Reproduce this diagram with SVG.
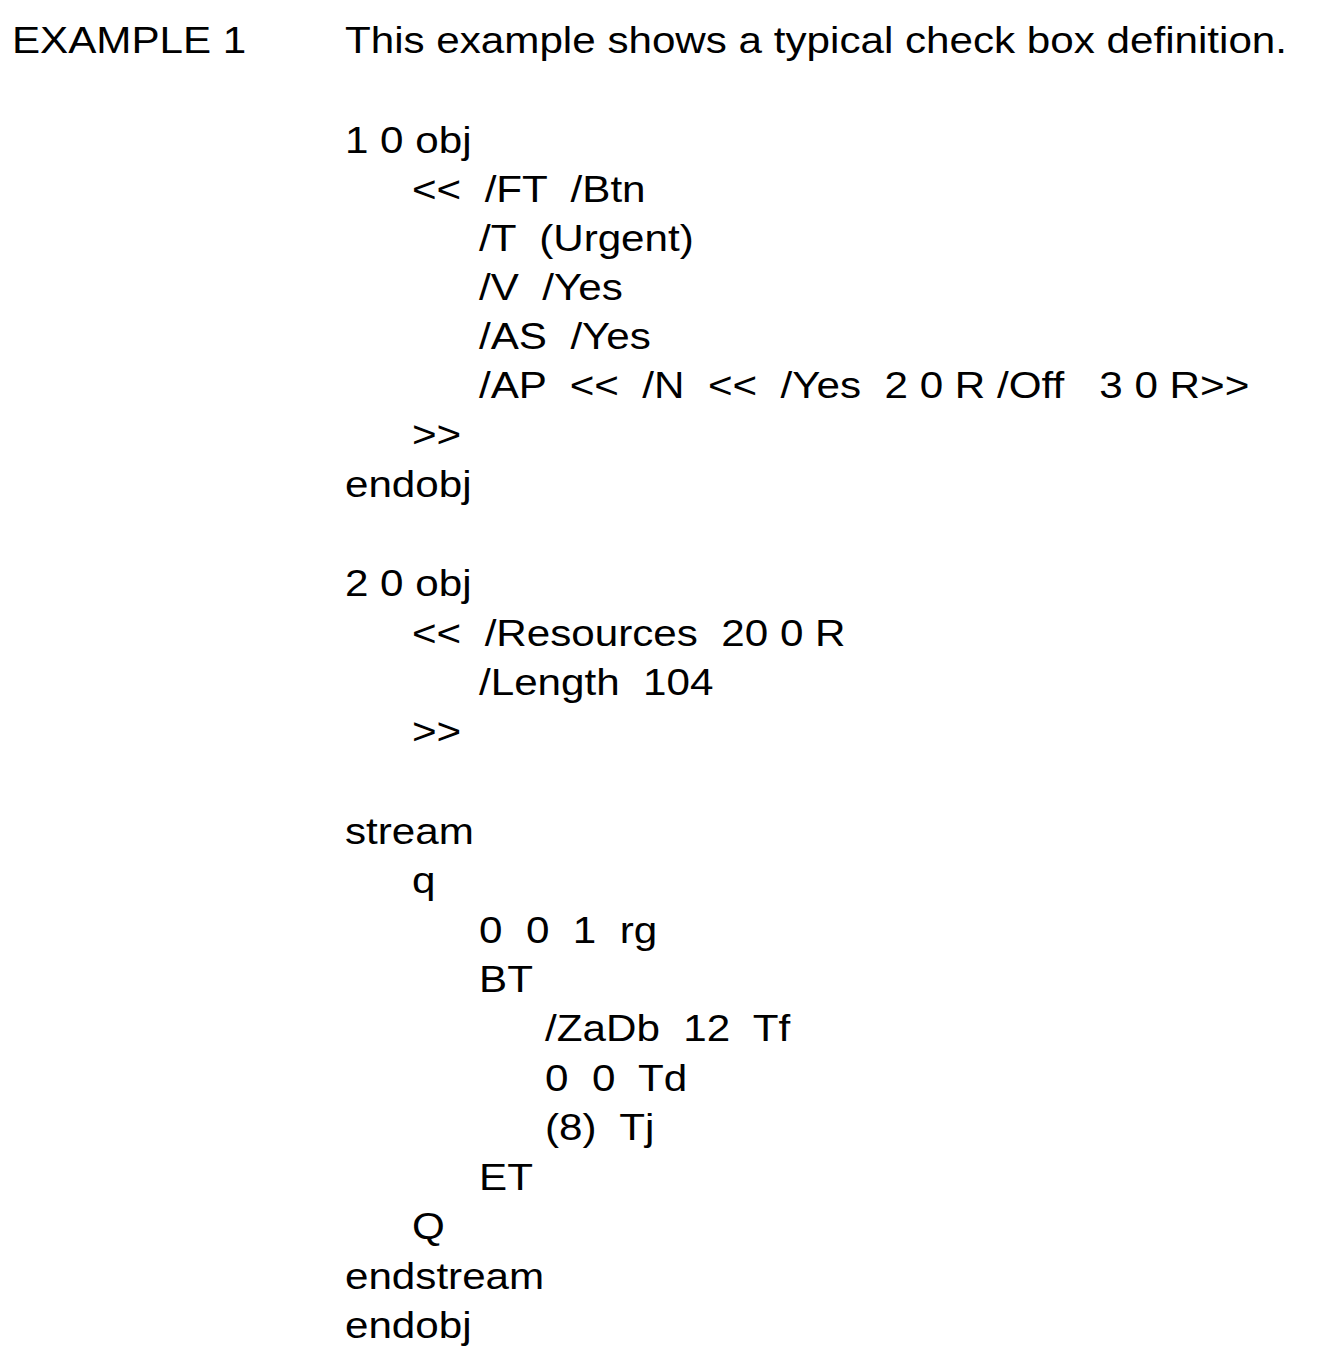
<svg xmlns="http://www.w3.org/2000/svg" width="1338" height="1372" viewBox="0 0 1338 1372">
<style>text{font-family:"Liberation Sans",Arial,sans-serif;font-size:37px;fill:#000;white-space:pre}</style>
<rect width="1338" height="1372" fill="#fff"/>
<g id="text" transform="scale(1.14,1)">
<text x="10.5" y="53">EXAMPLE 1</text>
<text x="302.6" y="53">This example shows a typical check box definition.</text>
<text x="302.6" y="153">1 0 obj</text>
<text x="361.4" y="202">&lt;&lt;  /FT  /Btn</text>
<text x="420.2" y="251">/T  (Urgent)</text>
<text x="420.2" y="300">/V  /Yes</text>
<text x="420.2" y="349">/AS  /Yes</text>
<text x="420.2" y="398">/AP  &lt;&lt;  /N  &lt;&lt;  /Yes  2 0 R /Off   3 0 R&gt;&gt;</text>
<text x="361.4" y="447">&gt;&gt;</text>
<text x="302.6" y="497">endobj</text>
<text x="302.6" y="596">2 0 obj</text>
<text x="361.4" y="646">&lt;&lt;  /Resources  20 0 R</text>
<text x="420.2" y="695">/Length  104</text>
<text x="361.4" y="744">&gt;&gt;</text>
<text x="302.6" y="844">stream</text>
<text x="361.4" y="893">q</text>
<text x="420.2" y="943">0  0  1  rg</text>
<text x="420.2" y="992">BT</text>
<text x="478.1" y="1041">/ZaDb  12  Tf</text>
<text x="478.1" y="1091">0  0  Td</text>
<text x="478.1" y="1140">(8)  Tj</text>
<text x="420.2" y="1190">ET</text>
<text x="361.4" y="1239">Q</text>
<text x="302.6" y="1289">endstream</text>
<text x="302.6" y="1338">endobj</text>
</g>
</svg>
